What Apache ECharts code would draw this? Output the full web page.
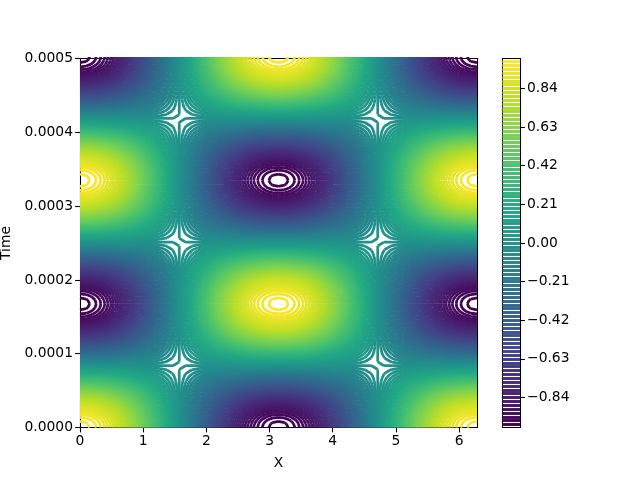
<!DOCTYPE html>
<html><head><meta charset="utf-8">
<style>html,body{margin:0;padding:0;background:#fff}#c{width:640px;height:480px}</style>
<script src="https://cdn.jsdelivr.net/npm/echarts@6/dist/echarts.min.js"></script>
</head><body><div id="c"></div>
<script>
// Field: spatial profile along X and temporal profile along Time.
const xProfile = [1,.99518,.98079,.95694,.92388,.88192,.83147,.77301,.70711,.63439,.55557,.4714,.38268,.29028,.19509,.09802,0,
 -.09802,-.19509,-.29028,-.38268,-.4714,-.55557,-.63439,-.70711,-.77301,-.83147,-.88192,-.92388,-.95694,-.98079,-.99518,-1,
 -.99518,-.98079,-.95694,-.92388,-.88192,-.83147,-.77301,-.70711,-.63439,-.55557,-.4714,-.38268,-.29028,-.19509,-.09802,0,
 .09802,.19509,.29028,.38268,.4714,.55557,.63439,.70711,.77301,.83147,.88192,.92388,.95694,.98079,.99518,1];
const timeProfile = [1,.99518,.98079,.95694,.92388,.88192,.83147,.77301,.70711,.63439,.55557,.4714,.38268,.29028,.19509,.09802,0,
 -.09802,-.19509,-.29028,-.38268,-.4714,-.55557,-.63439,-.70711,-.77301,-.83147,-.88192,-.92388,-.95694,-.98079,-.99518,-1,
 -.99518,-.98079,-.95694,-.92388,-.88192,-.83147,-.77301,-.70711,-.63439,-.55557,-.4714,-.38268,-.29028,-.19509,-.09802,0,
 .09802,.19509,.29028,.38268,.4714,.55557,.63439,.70711,.77301,.83147,.88192,.92388,.95694,.98079,.99518,1,
 .99518,.98079,.95694,.92388,.88192,.83147,.77301,.70711,.63439,.55557,.4714,.38268,.29028,.19509,.09802,0,
 -.09802,-.19509,-.29028,-.38268,-.4714,-.55557,-.63439,-.70711,-.77301,-.83147,-.88192,-.92388,-.95694,-.98079,-.99518,-1];
const xMax = 6.283185;
const timeSpan = 0.0005025;   // last profile node sits just above the axis top
const levelStep = 0.021, levelCount = 47;
const xTicks = [0,1,2,3,4,5,6];
const yTicks = [0,0.0001,0.0002,0.0003,0.0004,0.0005];
const barTicks = [-0.84,-0.63,-0.42,-0.21,0,0.21,0.42,0.63,0.84];
const viridis = ['#440154','#482475','#414487','#355f8d','#2a788e','#21918c','#22a884','#43bf71','#7ad151','#bddf26','#fde725'];

const xNodes = xProfile.map((_, i) => i * xMax / (xProfile.length - 1));
const tNodes = timeProfile.map((_, j) => j * timeSpan / (timeProfile.length - 1));
const levels = [];
for (let k = -levelCount; k <= levelCount; k++) levels.push(k * levelStep);

function colorAt(v) {
  const top = levelCount * levelStep;
  const p = Math.max(0, Math.min(1, (v + top) / (2 * top))) * (viridis.length - 1);
  const i = Math.min(viridis.length - 2, Math.floor(p)), f = p - i;
  const h = (s, o) => parseInt(s.substr(o, 2), 16);
  const ch = o => Math.round(h(viridis[i], o) + (h(viridis[i + 1], o) - h(viridis[i], o)) * f);
  return 'rgb(' + ch(1) + ',' + ch(3) + ',' + ch(5) + ')';
}

function segmentsFor(L) {
  const out = [];
  for (let j = 0; j < tNodes.length - 1; j++) for (let i = 0; i < xNodes.length - 1; i++) {
    const x0 = xNodes[i], x1 = xNodes[i + 1], t0 = tNodes[j], t1 = tNodes[j + 1];
    const a = xProfile[i] * timeProfile[j], b = xProfile[i + 1] * timeProfile[j],
          c = xProfile[i + 1] * timeProfile[j + 1], d = xProfile[i] * timeProfile[j + 1];
    const A = a >= L, B = b >= L, C = c >= L, D = d >= L;
    if (A === B && B === C && C === D) continue;
    const e0 = A !== B ? [x0 + (L - a) / (b - a) * (x1 - x0), t0] : null;
    const e1 = B !== C ? [x1, t0 + (L - b) / (c - b) * (t1 - t0)] : null;
    const e2 = C !== D ? [x0 + (L - d) / (c - d) * (x1 - x0), t1] : null;
    const e3 = D !== A ? [x0, t0 + (L - a) / (d - a) * (t1 - t0)] : null;
    const pts = [e0, e1, e2, e3].filter(Boolean);
    if (pts.length === 2) out.push({ coords: pts });
    else if (pts.length === 4) {
      const centre = (a + b + c + d) / 4 >= L;
      if (centre === A) { out.push({ coords: [e0, e1] }); out.push({ coords: [e2, e3] }); }
      else { out.push({ coords: [e3, e0] }); out.push({ coords: [e1, e2] }); }
    }
  }
  return out;
}

const series = [];
levels.forEach(L => {
  const col = colorAt(L);
  series.push({ type: 'lines', coordinateSystem: 'cartesian2d', xAxisIndex: 0, yAxisIndex: 0,
    polyline: false, large: true, largeThreshold: 1, clip: true, silent: true, animation: false,
    lineStyle: { color: col, width: 2.8, opacity: 1, curveness: 0 }, data: segmentsFor(L) });
  series.push({ type: 'lines', coordinateSystem: 'cartesian2d', xAxisIndex: 2, yAxisIndex: 2,
    polyline: false, clip: true, silent: true, animation: false,
    lineStyle: { color: col, width: 2.9, opacity: 1, curveness: 0 },
    data: [{ coords: [[0, L], [1, L]] }] });
});

const font = { fontFamily: 'DejaVu Sans', fontSize: 13.89, color: '#000' };
const yFont = Object.assign({ padding: [2, 0, 0, 0] }, font);
const edge = { show: true, onZero: false, lineStyle: { color: '#000', width: 1.1 } };
const tick = { show: true, length: 4.9, lineStyle: { color: '#000', width: 1.1 } };
const bare = { axisTick: { show: false }, axisLabel: { show: false }, splitLine: { show: false }, axisLine: edge };

const barExtent = 1.003;
const option = {
  backgroundColor: '#fff', animation: false,
  grid: [
    { left: 80, top: 58.5, width: 397, height: 369, outerBoundsMode: 'none' },
    { left: 502.5, top: 58.5, width: 17.5, height: 369, outerBoundsMode: 'none' }
  ],
  xAxis: [
    { type: 'value', gridIndex: 0, min: 0, max: xMax, position: 'bottom', name: 'X', nameLocation: 'middle', nameGap: 29,
      nameTextStyle: font, axisLine: edge, splitLine: { show: false },
      axisTick: Object.assign({ customValues: xTicks }, tick),
      axisLabel: Object.assign({ customValues: xTicks, margin: 7, formatter: v => String(v) }, font) },
    Object.assign({ type: 'value', gridIndex: 0, min: 0, max: xMax, position: 'top' }, bare),
    Object.assign({ type: 'value', gridIndex: 1, min: 0, max: 1, position: 'bottom' }, bare),
    Object.assign({ type: 'value', gridIndex: 1, min: 0, max: 1, position: 'top' }, bare)
  ],
  yAxis: [
    { type: 'value', gridIndex: 0, min: 0, max: 0.0005, position: 'left', name: 'Time', nameLocation: 'middle', nameGap: 63,
      nameTextStyle: font, axisLine: edge, splitLine: { show: false },
      axisTick: Object.assign({ customValues: yTicks }, tick),
      axisLabel: Object.assign({ customValues: yTicks, margin: 7, formatter: v => v.toFixed(4) }, yFont) },
    Object.assign({ type: 'value', gridIndex: 0, min: 0, max: 0.0005, position: 'right' }, bare),
    { type: 'value', gridIndex: 1, min: -barExtent, max: barExtent, position: 'right', axisLine: edge, splitLine: { show: false },
      axisTick: Object.assign({ customValues: barTicks }, tick),
      axisLabel: Object.assign({ customValues: barTicks, margin: 7, formatter: v => (v < -1e-9 ? '\u2212' : '') + Math.abs(v).toFixed(2) }, yFont) },
    Object.assign({ type: 'value', gridIndex: 1, min: -barExtent, max: barExtent, position: 'left' }, bare)
  ],
  series
};
echarts.init(document.getElementById('c'), null, { renderer: 'canvas' }).setOption(option);
</script></body></html>
